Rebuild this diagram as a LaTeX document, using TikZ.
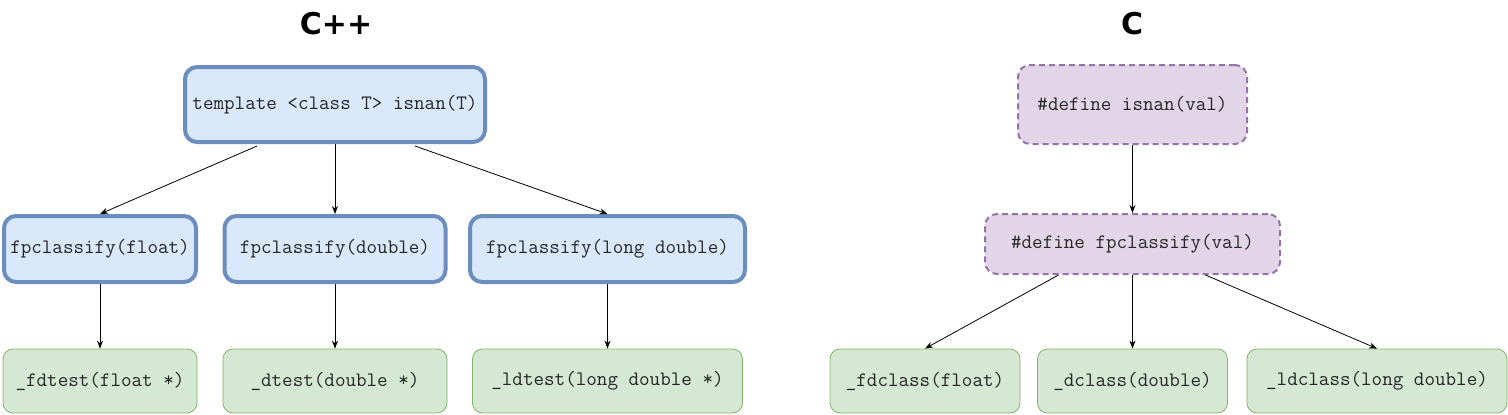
\documentclass[tikz,border=0pt]{standalone}
\usepackage{fontspec}
\setmainfont{Liberation Sans}
\newfontfamily\titlefont{DejaVu Sans}
\usetikzlibrary{calc,arrows.meta}
\definecolor{bluefill}{HTML}{DAE8FC}
\definecolor{bluedraw}{HTML}{6C8EBF}
\definecolor{greenfill}{HTML}{D5E8D4}
\definecolor{greendraw}{HTML}{82B366}
\definecolor{purplefill}{HTML}{E1D5E7}
\definecolor{purpledraw}{HTML}{9673A6}
\begin{document}
\begin{tikzpicture}[x=1pt,y=-1pt,
  txt/.style={font=\ttfamily\fontsize{20.5}{22}\selectfont, text=black!85},
  bluebox/.style={txt, draw=bluedraw, fill=bluefill, line width=4pt, rounded corners=12pt, inner sep=0pt},
  greenbox/.style={txt, draw=greendraw, fill=greenfill, line width=0.8pt, rounded corners=10pt, inner sep=0pt},
  purplebox/.style={txt, draw=purpledraw, fill=purplefill, line width=2pt, rounded corners=12pt, inner sep=0pt, dash pattern=on 6pt off 4pt},
  title/.style={font=\titlefont\bfseries\fontsize{30}{34}\selectfont},
  conn/.style={-{Stealth[length=8pt,width=6pt]}, line width=0.8pt, black},
]
\useasboundingbox (0,0) rectangle (1508,415);
\node[title] (tcpp) at (336,24) {C++};
\node[title] (tc) at (1132,24) {C};

\node[bluebox, minimum width=300pt, minimum height=75pt] (top) at (335,104.5) {template <class T> isnan(T)};
\node[bluebox, minimum width=192pt, minimum height=66pt] (ff) at (100,249) {fpclassify(float)};
\node[bluebox, minimum width=221pt, minimum height=66pt] (fd) at (335,249) {fpclassify(double)};
\node[bluebox, minimum width=275pt, minimum height=66pt] (fl) at (607.5,249) {fpclassify(long double)};

\node[greenbox, minimum width=194pt, minimum height=64pt] (gf) at (100,381) {\_fdtest(float *)};
\node[greenbox, minimum width=224pt, minimum height=64pt] (gd) at (335,381) {\_dtest(double *)};
\node[greenbox, minimum width=270pt, minimum height=64pt] (gl) at (607.5,381) {\_ldtest(long double *)};

\node[purplebox, minimum width=229pt, minimum height=79pt] (pi) at (1132.5,104.5) {\#define isnan(val)};
\node[purplebox, minimum width=295pt, minimum height=60pt] (pf) at (1132.5,244) {\#define fpclassify(val)};

\node[greenbox, minimum width=190pt, minimum height=64pt] (cf) at (925,381) {\_fdclass(float)};
\node[greenbox, minimum width=190pt, minimum height=64pt] (cd) at (1132.5,381) {\_dclass(double)};
\node[greenbox, minimum width=260pt, minimum height=64pt] (cl) at (1377,381) {\_ldclass(long double)};

\draw[conn] ($(top.south)+(-78,2)$) -- (ff.north);
\draw[conn] (top.south) -- (fd.north);
\draw[conn] ($(top.south)+(80,2)$) -- (fl.north);
\draw[conn] (ff.south) -- (gf.north);
\draw[conn] (fd.south) -- (gd.north);
\draw[conn] (fl.south) -- (gl.north);

\draw[conn] (pi.south) -- (pf.north);
\draw[conn] ($(pf.south)+(-74,0)$) -- (cf.north);
\draw[conn] (pf.south) -- (cd.north);
\draw[conn] ($(pf.south)+(73,0)$) -- (cl.north);
\end{tikzpicture}
\end{document}
